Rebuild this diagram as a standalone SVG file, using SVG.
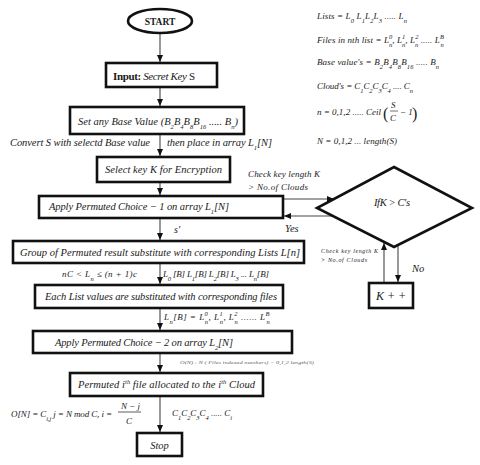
<svg xmlns="http://www.w3.org/2000/svg" width="480" height="465" viewBox="0 0 480 465">
<style>
.box{fill:#fff;stroke:#111;stroke-width:2.6}
.t{font-family:"Liberation Serif","DejaVu Serif",serif;font-style:italic;font-size:10.5px;fill:#1a1a1a}
.u{font-style:normal}
.b{font-weight:bold;font-style:normal}
.sm{font-size:9px}
.xs{font-size:6px}
.sb{font-size:6.5px;baseline-shift:-3.5px}
.sp{font-size:6.5px;baseline-shift:4.5px}
.c{stroke:#444;stroke-width:1.1;fill:none}
</style>
<defs>
<marker id="a" markerWidth="8" markerHeight="8" refX="7" refY="4" orient="auto" markerUnits="userSpaceOnUse"><path d="M0,1 L7,4 L0,7z" fill="#111"/></marker>
</defs>

<g id="connectors">
<path class="c" d="M160,33 V62" marker-end="url(#a)"/>
<path class="c" d="M160,87 V106" marker-end="url(#a)"/>
<path class="c" d="M160,134 V156" marker-end="url(#a)"/>
<path class="c" d="M160,182 V195" marker-end="url(#a)"/>
<path class="c" d="M283,199 H334" marker-end="url(#a)"/>
<path class="c" d="M332,216 H284" marker-end="url(#a)"/>
<path class="c" d="M160,218 V240" marker-end="url(#a)"/>
<path class="c" d="M160,263 V284" marker-end="url(#a)"/>
<path class="c" d="M160,308 V330" marker-end="url(#a)"/>
<path class="c" d="M160,353 V372" marker-end="url(#a)"/>
<path class="c" d="M160,396 V432" marker-end="url(#a)"/>
<path class="c" d="M384,282 V243" marker-end="url(#a)"/>
<path class="c" d="M398,245 V282" marker-end="url(#a)"/>
</g>

<g id="start">
<ellipse class="box" cx="160" cy="21" rx="32" ry="12"/>
<text class="t b" x="160" y="25" text-anchor="middle" style="font-size:9.5px">START</text>
</g>

<g id="input">
<rect class="box" x="106" y="63" width="111" height="24"/>
<text class="t" x="113" y="80" style="font-size:11px" textLength="82"><tspan class="b">Input: </tspan>Secret Key <tspan class="u">S</tspan></text>
</g>

<g id="base">
<rect class="box" x="70" y="107" width="174" height="27"/>
<text class="t" x="78" y="125" textLength="160">Set any Base Value (B<tspan class="sb">2</tspan>B<tspan class="sb">4</tspan>B<tspan class="sb">8</tspan>B<tspan class="sb">16</tspan> ..... B<tspan class="sb">n</tspan>)</text>
</g>

<text class="t" x="10" y="146" textLength="140">Convert S with selectd Base value</text>
<text class="t" x="167" y="146" textLength="105">then place in array L<tspan class="sb">1</tspan>[N]</text>

<g id="select">
<rect class="box" x="97" y="157" width="133" height="25"/>
<text class="t" x="105" y="173" textLength="117">Select key K for Encryption</text>
</g>

<g id="pc1">
<rect class="box" x="39" y="196" width="244" height="22"/>
<text class="t" x="49" y="210" textLength="180">Apply Permuted Choice − 1 on array L<tspan class="sb">1</tspan>[N]</text>
</g>

<text class="t sm" x="248" y="177" textLength="72">Check key length K</text>
<text class="t sm" x="248" y="190" textLength="60">&gt; No.of Clouds</text>
<text class="t" x="285" y="232">Yes</text>
<text class="t" x="174" y="233" style="font-size:10px">s'</text>

<g id="decision">
<polygon class="box" points="394,167 472,208 394,247 317,208"/>
<text class="t" x="374" y="206" textLength="36">IfK &gt; C's</text>
</g>

<text class="t xs" x="321" y="253" textLength="57">Check key length K</text>
<text class="t xs" x="321" y="262" textLength="46">&gt; No.of Clouds</text>
<text class="t" x="412" y="272">No</text>

<g id="kinc">
<rect class="box" x="369" y="283" width="44" height="25"/>
<text class="t" x="391" y="300" text-anchor="middle" style="font-size:12px">K + +</text>
</g>

<g id="group">
<rect class="box" x="13" y="241" width="291" height="22"/>
<text class="t" x="20" y="256" textLength="280">Group of  Permuted result substitute with corresponding Lists L[n]</text>
</g>

<text class="t sm" x="62" y="277" textLength="75">nC &lt;  L<tspan class="sb">n</tspan> ≤ (n + 1)c</text>
<text class="t sm" x="163" y="277" textLength="106">L<tspan class="sb">0</tspan> [B] L<tspan class="sb">1</tspan>[B] L<tspan class="sb">2</tspan>[B] L<tspan class="sb">3</tspan> ... L<tspan class="sb">n</tspan>[B]</text>

<g id="each">
<rect class="box" x="35" y="285" width="248" height="23"/>
<text class="t" x="45" y="300" textLength="232">Each List values are substituted with corresponding files</text>
</g>

<text class="t sm" x="164" y="320" textLength="106">L<tspan class="sb">n</tspan>[B] = L<tspan class="sp">0</tspan><tspan class="sb" dx="-3.5">n</tspan>, L<tspan class="sp">1</tspan><tspan class="sb" dx="-3.5">n</tspan>, L<tspan class="sp">2</tspan><tspan class="sb" dx="-3.5">n</tspan> ...... L<tspan class="sp">B</tspan><tspan class="sb" dx="-3.5">n</tspan></text>

<g id="pc2">
<rect class="box" x="33" y="331" width="259" height="22"/>
<text class="t" x="55" y="346" textLength="178">Apply Permuted Choice − 2 on array L<tspan class="sb">2</tspan>[N]</text>
</g>

<text class="t" x="180" y="364" style="font-size:4px;fill:#666" textLength="134" lengthAdjust="spacingAndGlyphs">O(N) : N ( Files indexed numbers) = 0,1,2            length(S)</text>

<g id="permuted">
<rect class="box" x="70" y="373" width="193" height="23"/>
<text class="t" x="78" y="388" textLength="177">Permuted  i<tspan class="sp">th</tspan> file allocated to the i<tspan class="sp">th</tspan> Cloud</text>
</g>

<text class="t sm" x="11" y="417" textLength="101">O[N] = C<tspan class="sb">i,j</tspan> j = N mod C,   i =</text>
<text class="t sm" x="121" y="409">N − j</text>
<path d="M118,412 H141" stroke="#333" stroke-width="0.8"/>
<text class="t sm" x="126" y="424">C</text>
<text class="t sm" x="172" y="416" textLength="60">C<tspan class="sb">1</tspan>C<tspan class="sb">2</tspan>C<tspan class="sb">3</tspan>C<tspan class="sb">4</tspan> ..... C<tspan class="sb">i</tspan></text>

<g id="stop">
<rect class="box" x="137" y="433" width="45" height="23"/>
<text class="t" x="159.5" y="449" text-anchor="middle">Stop</text>
</g>

<g id="legend">
<text class="t sm" x="317" y="19" textLength="90">Lists =  L<tspan class="sb">0</tspan> L<tspan class="sb">1</tspan>L<tspan class="sb">2</tspan>L<tspan class="sb">3</tspan> ..... L<tspan class="sb">n</tspan></text>
<text class="t sm" x="317" y="43" textLength="127">Files in nth list =  L<tspan class="sp">0</tspan><tspan class="sb" dx="-3.5">n</tspan>, L<tspan class="sp">1</tspan><tspan class="sb" dx="-3.5">n</tspan>, L<tspan class="sp">2</tspan><tspan class="sb" dx="-3.5">n</tspan> ..... L<tspan class="sp">B</tspan><tspan class="sb" dx="-3.5">n</tspan></text>
<text class="t sm" x="317" y="65" textLength="122">Base value's =  B<tspan class="sb">2</tspan>B<tspan class="sb">4</tspan>B<tspan class="sb">8</tspan>B<tspan class="sb">16</tspan> ..... B<tspan class="sb">n</tspan></text>
<text class="t sm" x="317" y="89" textLength="96">Cloud's  = C<tspan class="sb">1</tspan>C<tspan class="sb">2</tspan>C<tspan class="sb">3</tspan>C<tspan class="sb">4</tspan> .... C<tspan class="sb">n</tspan></text>
<text class="t sm" x="317" y="115" textLength="64">n = 0,1,2 ..... Ceil</text>
<text class="t u" x="383" y="119" style="font-size:16px">(</text>
<text class="t sm" x="391" y="108">S</text>
<path d="M390,111 H398" stroke="#333" stroke-width="0.7"/>
<text class="t sm" x="390" y="121">C</text>
<text class="t sm" x="400" y="115">− 1</text>
<text class="t u" x="412" y="119" style="font-size:16px">)</text>
<text class="t sm" x="317" y="144" textLength="80">N = 0,1,2 ... length(S)</text>
</g>
</svg>
